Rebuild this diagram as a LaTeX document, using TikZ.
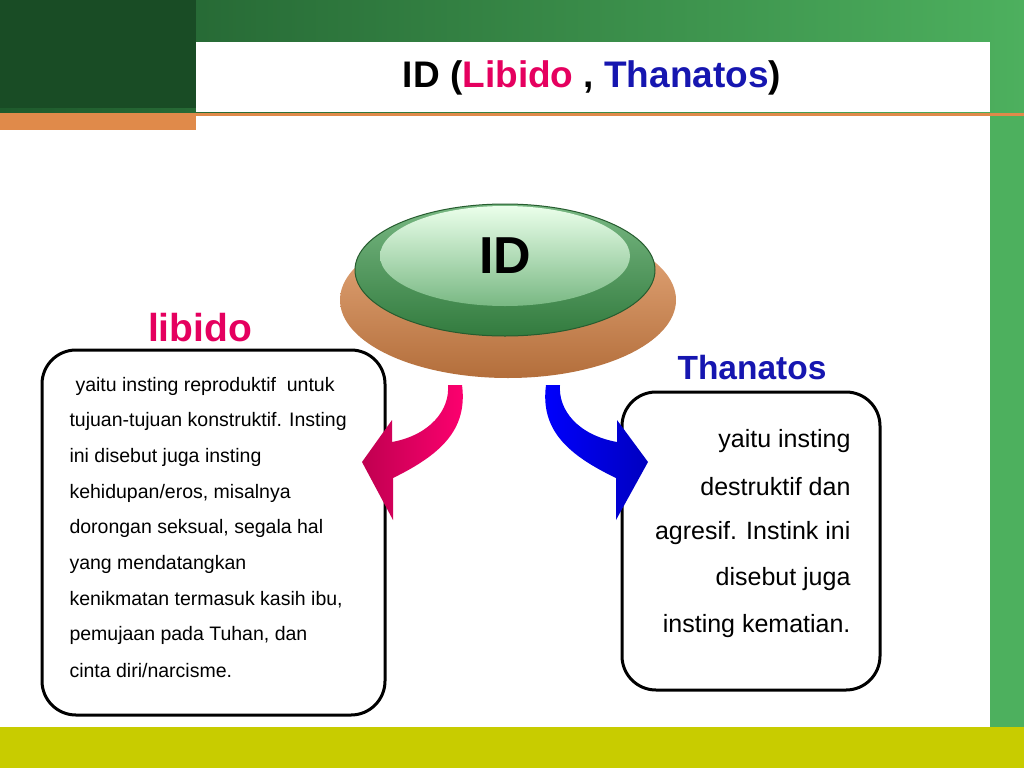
\documentclass[tikz,border=0pt]{standalone}
\usepackage{fontspec}
\setmainfont{Liberation Sans}
\begin{document}
\begin{tikzpicture}[x=1pt,y=-1pt,
  box/.style={draw=black,line width=3pt,rounded corners=34pt,fill=white},
  ltxt/.style={anchor=west,font=\fontsize{19.5}{22}\selectfont},
  rtxt/.style={anchor=east,font=\fontsize{25}{28}\selectfont}]
\definecolor{mag}{HTML}{E5005F}
\definecolor{blu}{HTML}{1616B0}
\definecolor{dgreen}{HTML}{1E5A2C}
\definecolor{lgreen}{HTML}{4DB05E}
\definecolor{orng}{HTML}{E08A4A}
\definecolor{dgr}{HTML}{3F9A4E}
\definecolor{ylw}{HTML}{C8CC00}
\definecolor{magA}{HTML}{C00050}
\definecolor{magB}{HTML}{FF0070}
\definecolor{bluA}{HTML}{0000FF}
\definecolor{bluB}{HTML}{0000C0}
\useasboundingbox (0,0) rectangle (1024,768);
\fill[white] (0,0) rectangle (1024,768);
\shade[left color=dgreen,right color=lgreen] (0,0) rectangle (1024,112);
\fill[dgreen!85!black] (0,0) rectangle (196,108);
\fill[white] (196,42) rectangle (990,112);
\fill[orng] (0,113) rectangle (196,130);
\fill[orng] (196,113) rectangle (1024,116);
\fill[lgreen] (990,116) rectangle (1024,750);
\fill[ylw] (0,727) rectangle (1024,768);
\node (title) at (592,78) {\fontsize{37}{40}\selectfont\bfseries ID (\textcolor{mag}{Libido} , \textcolor{blu}{Thanatos})};
% ID disc
\shade[top color=orng!70!white,bottom color=orng!80!black] (508,300) ellipse (168 and 78);
\shade[top color=dgr!70!white,bottom color=dgr!80!black,draw=dgr!60!black,line width=1pt] (505,270) ellipse (150 and 66);
\shade[top color=green!8!white,bottom color=dgr!70!white] (505,256) ellipse (125 and 50);
\node (id) at (505,256) {\fontsize{52}{56}\selectfont\bfseries ID};
\node[text=mag] (lib) at (200,328) {\fontsize{39}{42}\selectfont\bfseries libido};
\node[text=blu] (than) at (752,368) {\fontsize{33.5}{36}\selectfont\bfseries Thanatos};
% boxes
\draw[box] (42,350) rectangle (385,715);
\draw[box] (622,392) rectangle (880,690);
\node[ltxt] (l1) at (72,386) {yaitu insting reproduktif\ \ untuk};
\node[ltxt] (l2) at (66,421) {tujuan-tujuan konstruktif. Insting};
\node[ltxt] (l3) at (66,457) {ini disebut juga insting};
\node[ltxt] (l4) at (66,493) {kehidupan/eros, misalnya};
\node[ltxt] (l5) at (66,528) {dorongan seksual, segala hal};
\node[ltxt] (l6) at (66,564) {yang mendatangkan};
\node[ltxt] (l7) at (66,600) {kenikmatan termasuk kasih ibu,};
\node[ltxt] (l8) at (66,635) {pemujaan pada Tuhan, dan};
\node[ltxt] (l9) at (66,671) {cinta diri/narcisme.};
\node[rtxt] (r1) at (854,441) {yaitu insting};
\node[rtxt] (r2) at (854,487) {destruktif dan};
\node[rtxt] (r3) at (854,533) {agresif. Instink ini};
\node[rtxt] (r4) at (854,579) {disebut juga};
\node[rtxt] (r5) at (854,626) {insting kematian.};
% arrows
\shade[left color=magA,right color=magB]
 (462,385) .. controls (468,430) and (440,455) .. (393,478)
 -- (393,520) -- (362,462) -- (392,420) -- (392,442)
 .. controls (430,435) and (450,410) .. (448,385) -- cycle;
\shade[left color=bluA,right color=bluB]
 (546,385) .. controls (540,430) and (568,455) .. (616,478)
 -- (616,520) -- (648,462) -- (617,420) -- (617,442)
 .. controls (578,435) and (558,410) .. (560,385) -- cycle;
\end{tikzpicture}
\end{document}
